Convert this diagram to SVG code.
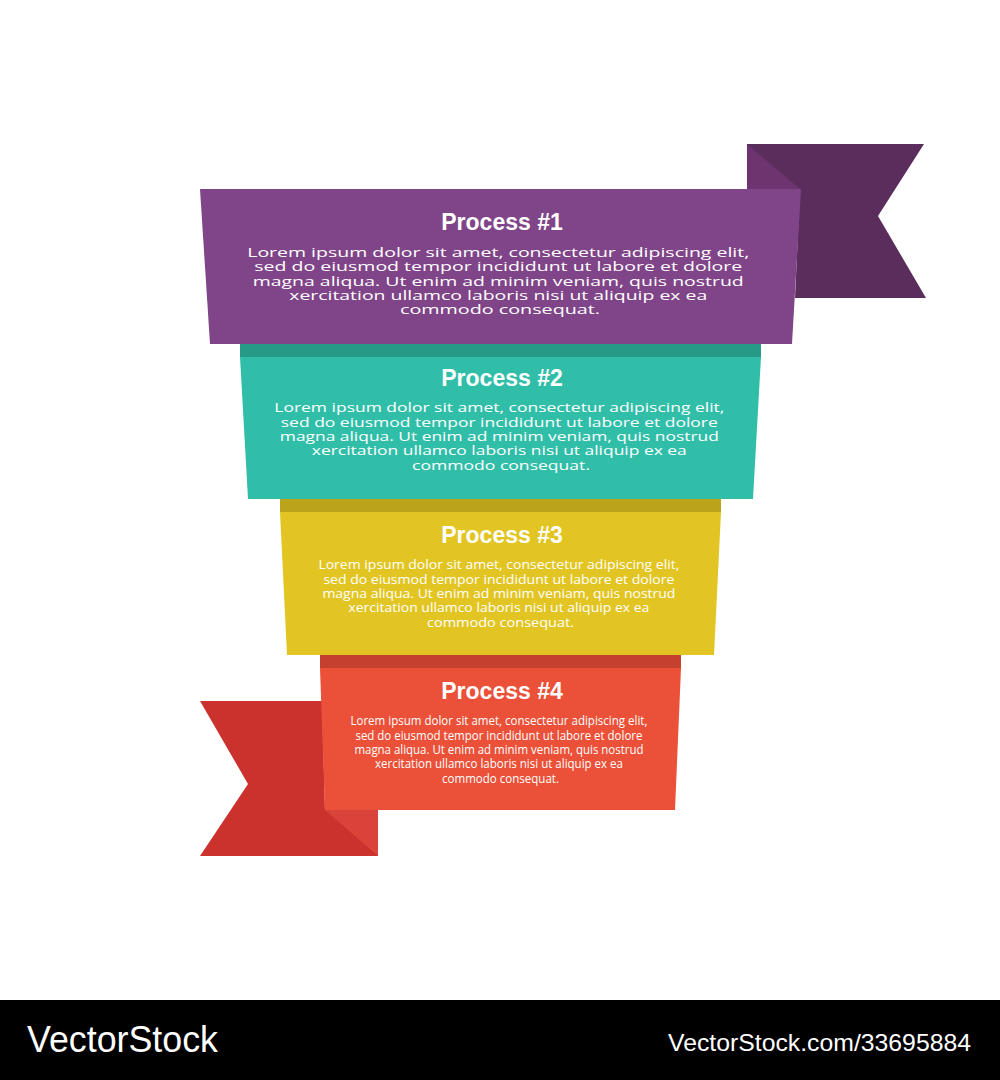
<svg xmlns="http://www.w3.org/2000/svg" width="1000" height="1080" viewBox="0 0 1000 1080">
<style>
.title{font-family:"Liberation Sans",Arial,sans-serif;font-weight:bold;fill:#fff;text-anchor:middle}
.body{font-family:"Open Sans","Noto Sans",sans-serif;fill:#fff;text-anchor:middle}
.wm{font-family:"Liberation Sans",Arial,sans-serif;fill:#fff}
</style>
<rect width="1000" height="1080" fill="#fff"/>
<g id="ribbon-tail-1">
<polygon points="747,144 924,144 878,216 926,298 795,298 800,189 747,189" fill="#5a2d5c"/>
<polygon points="747,144 800,189 747,189" fill="#6d3470"/>
</g>
<g id="ribbon-tail-4">
<polygon points="200,701 322,701 325,810 378,810 378,856 200,856 248,784" fill="#cb322d"/>
<polygon points="325,810 378,810 378,856" fill="#d9433a"/>
</g>
<g id="process-4">
<rect x="320" y="655" width="361" height="14" fill="#c4412f"/>
<polygon points="320,668 681,668 675,810 325,810" fill="#eb5038"/>
<text class="title" x="502" y="699" font-size="23">Process #4</text>
<text class="body" font-size="12" lengthAdjust="spacingAndGlyphs">
<tspan x="500.5" y="725" textLength="297" lengthAdjust="spacingAndGlyphs">Lorem ipsum dolor sit amet, consectetur adipiscing elit,</tspan>
<tspan x="500.5" y="740" textLength="287" lengthAdjust="spacingAndGlyphs">sed do eiusmod tempor incididunt ut labore et dolore</tspan>
<tspan x="500.5" y="754" textLength="289" lengthAdjust="spacingAndGlyphs">magna aliqua. Ut enim ad minim veniam, quis nostrud</tspan>
<tspan x="500.5" y="768" textLength="248" lengthAdjust="spacingAndGlyphs">xercitation ullamco laboris nisi ut aliquip ex ea</tspan>
<tspan x="500.5" y="783" textLength="117" lengthAdjust="spacingAndGlyphs">commodo consequat.</tspan>
</text>
</g>
<g id="process-3">
<rect x="280" y="499" width="441" height="14" fill="#bba31c"/>
<polygon points="280,512 721,512 714,655 287,655" fill="#e2c522"/>
<text class="title" x="502" y="543" font-size="23">Process #3</text>
<text class="body" font-size="12.5">
<tspan x="500.5" y="569" textLength="361" lengthAdjust="spacingAndGlyphs">Lorem ipsum dolor sit amet, consectetur adipiscing elit,</tspan>
<tspan x="500.5" y="584" textLength="351" lengthAdjust="spacingAndGlyphs">sed do eiusmod tempor incididunt ut labore et dolore</tspan>
<tspan x="500.5" y="598" textLength="353" lengthAdjust="spacingAndGlyphs">magna aliqua. Ut enim ad minim veniam, quis nostrud</tspan>
<tspan x="500.5" y="612" textLength="301" lengthAdjust="spacingAndGlyphs">xercitation ullamco laboris nisi ut aliquip ex ea</tspan>
<tspan x="500.5" y="627" textLength="147" lengthAdjust="spacingAndGlyphs">commodo consequat.</tspan>
</text>
</g>
<g id="process-2">
<rect x="240" y="343" width="521" height="15" fill="#279a87"/>
<polygon points="240,357 761,357 753,499 248,499" fill="#31bea8"/>
<text class="title" x="502" y="386" font-size="23">Process #2</text>
<text class="body" font-size="13">
<tspan x="501" y="412" textLength="450" lengthAdjust="spacingAndGlyphs">Lorem ipsum dolor sit amet, consectetur adipiscing elit,</tspan>
<tspan x="501" y="427" textLength="437" lengthAdjust="spacingAndGlyphs">sed do eiusmod tempor incididunt ut labore et dolore</tspan>
<tspan x="501" y="441" textLength="439" lengthAdjust="spacingAndGlyphs">magna aliqua. Ut enim ad minim veniam, quis nostrud</tspan>
<tspan x="501" y="455" textLength="375" lengthAdjust="spacingAndGlyphs">xercitation ullamco laboris nisi ut aliquip ex ea</tspan>
<tspan x="501" y="470" textLength="178" lengthAdjust="spacingAndGlyphs">commodo consequat.</tspan>
</text>
</g>
<g id="process-1">
<polygon points="200,189 801,189 792,344 210,344" fill="#804588"/>
<text class="title" x="502" y="230" font-size="23">Process #1</text>
<text class="body" font-size="13.5">
<tspan x="500" y="257" textLength="502" lengthAdjust="spacingAndGlyphs">Lorem ipsum dolor sit amet, consectetur adipiscing elit,</tspan>
<tspan x="500" y="271" textLength="488" lengthAdjust="spacingAndGlyphs">sed do eiusmod tempor incididunt ut labore et dolore</tspan>
<tspan x="500" y="286" textLength="491" lengthAdjust="spacingAndGlyphs">magna aliqua. Ut enim ad minim veniam, quis nostrud</tspan>
<tspan x="500" y="300" textLength="418" lengthAdjust="spacingAndGlyphs">xercitation ullamco laboris nisi ut aliquip ex ea</tspan>
<tspan x="500" y="314" textLength="200" lengthAdjust="spacingAndGlyphs">commodo consequat.</tspan>
</text>
</g>
<g id="watermark">
<rect x="0" y="1000" width="1000" height="80" fill="#000"/>
<text class="wm" x="27" y="1052" font-size="36" textLength="191" lengthAdjust="spacingAndGlyphs">VectorStock</text>
<text class="wm" x="668" y="1051" font-size="24" textLength="303" lengthAdjust="spacingAndGlyphs">VectorStock.com/33695884</text>
</g>
</svg>
